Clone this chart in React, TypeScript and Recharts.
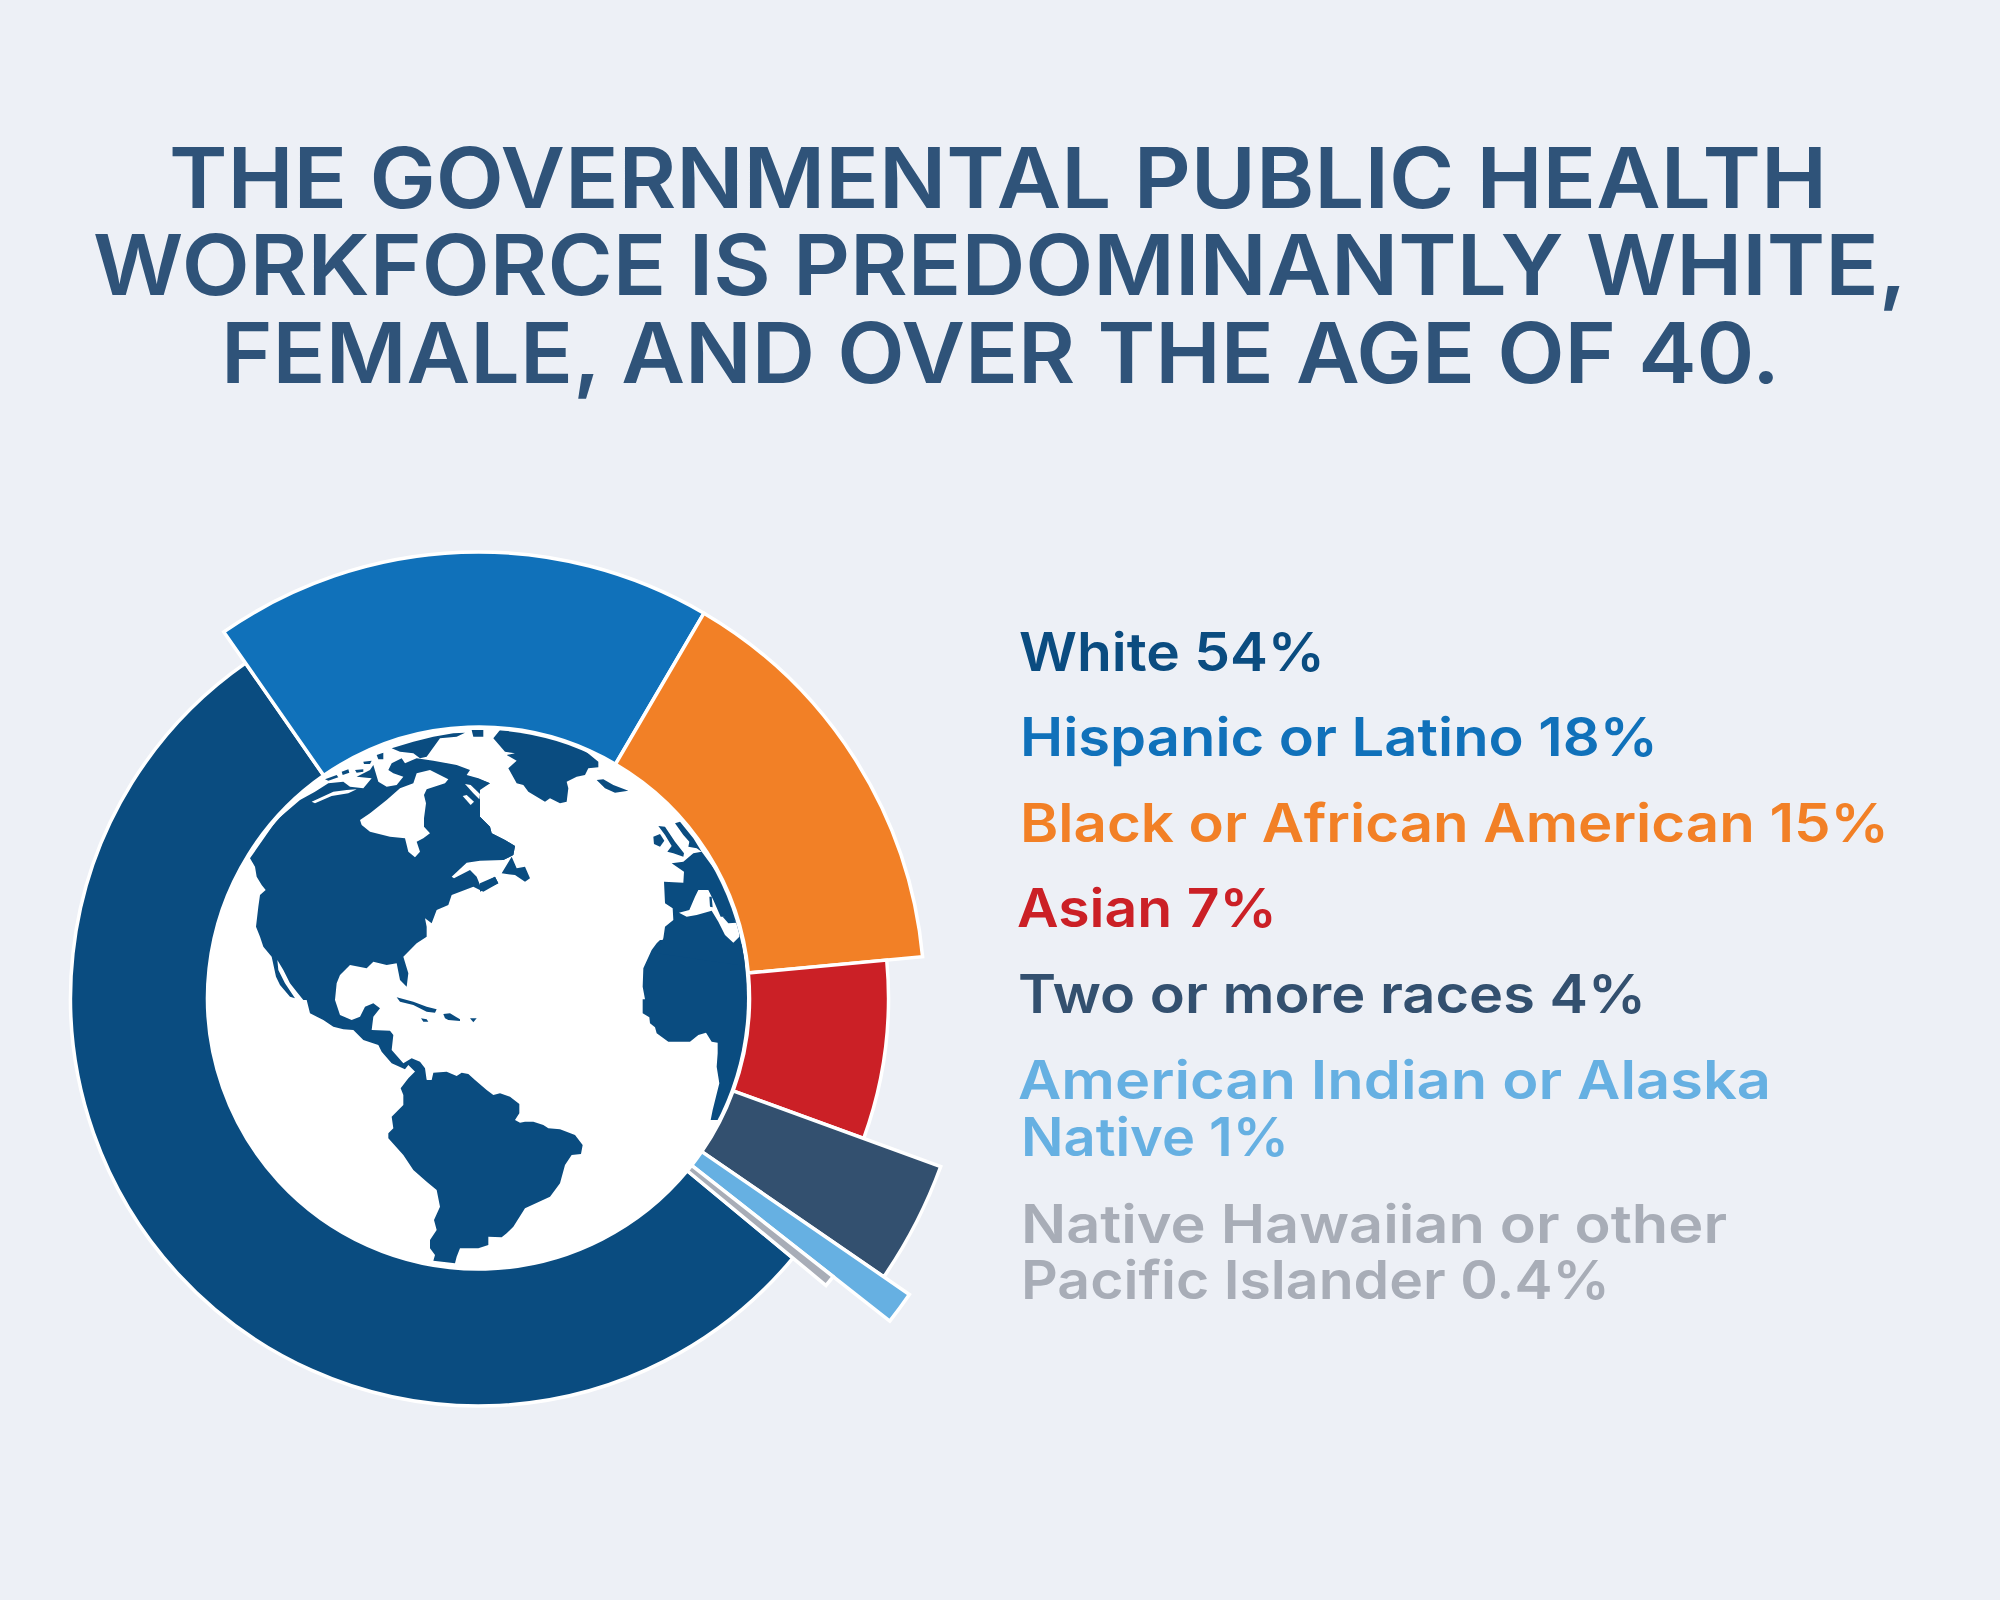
import { PieChart, Pie, Sector } from 'recharts';

// Race / ethnicity shares, in the order the legend lists them.
const CATEGORIES = [
  'White',
  'Hispanic or Latino',
  'Black or African American',
  'Asian',
  'Two or more races',
  'American Indian or Alaska Native',
  'Native Hawaiian or other Pacific Islander',
];
const SHARES = [54, 18, 15, 7, 4, 1, 0.4];
const COLORS = ['#0a4c80', '#1071ba', '#f28026', '#cb2026', '#33506f', '#66b0e2', '#a8adb7'];
const OUTER_RADII = [408, 446, 446, 410, 492, 523, 451];

const TITLE_LINES = [
  'THE GOVERNMENTAL PUBLIC HEALTH',
  'WORKFORCE IS PREDOMINANTLY WHITE,',
  'FEMALE, AND OVER THE AGE OF 40.',
];
const TITLE_BASELINES = [208, 295, 383];
const TITLE_X = [169, 93, 221];
const TITLE_WIDTHS = [1658, 1814, 1559];

const LEGEND_LINES = [
  'White 54%',
  'Hispanic or Latino 18%',
  'Black or African American 15%',
  'Asian 7%',
  'Two or more races 4%',
  'American Indian or Alaska',
  'Native 1%',
  'Native Hawaiian or other',
  'Pacific Islander 0.4%',
];
const LEGEND_COLOR_INDEX = [0, 1, 2, 3, 4, 5, 5, 6, 6];
const LEGEND_BASELINES = [671, 756, 842, 927, 1013, 1099, 1156, 1243, 1299];
const LEGEND_X = [1019, 1020, 1020, 1017, 1018, 1018, 1021, 1021, 1021];
const LEGEND_WIDTHS = [306, 638, 869, 260, 628, 753, 268, 706, 589];

const CX = 478.5;
const CY = 998;
const LAND = '#0a4c80';
const FONT = 'Inter, "Open Sans", sans-serif';

const pieData = CATEGORIES.map((name, i) => ({ name, value: SHARES[i], fill: COLORS[i] }));

// Landmass outlines for the globe, traced in three overlapping crops of the picture.
const NORTH_AMERICA =
  'M150,415 L230,300 L300,240 L345,215 L385,190 L430,185 L450,200 L490,205 L515,175 L470,170 L510,150 L520,135 L535,185 L560,200 L590,195 L610,170 L580,160 L565,150 L575,130 L605,115 L615,130 L650,115 L700,122 L770,135 L810,150 L800,165 L835,175 L870,190 L840,210 L840,290 L870,320 L875,340 L915,360 L945,378 L940,405 L910,420 L840,422 L800,428 L755,470 L762,475 L810,450 L830,470 L840,495 L885,470 L895,490 L850,515 L820,500 L755,525 L745,555 L710,570 L695,610 L675,595 L680,620 L680,650 L650,670 L610,710 L625,760 L620,800 L600,780 L590,730 L560,735 L520,725 L500,745 L450,735 L420,765 L410,790 L405,840 L420,885 L455,900 L480,890 L495,860 L520,850 L540,865 L520,890 L515,930 L570,932 L580,945 L575,990 L610,1030 L635,1015 L660,1025 L675,1045 L680,1080 L650,1060 L625,1035 L615,1048 L575,1030 L545,995 L535,975 L490,960 L460,930 L430,928 L400,920 L370,900 L330,880 L320,840 L310,840 L290,815 L270,790 L250,750 L232,720 L235,750 L255,790 L285,835 L270,830 L240,795 L228,770 L215,710 L190,680 L180,650 L168,620 L175,560 L180,525 L197,510 L185,495 L170,470 L165,440 Z';
const ARCTIC_ISLANDS = [
  'M375,178 L410,165 L415,172 L385,182 Z',
  'M425,155 L445,148 L448,158 L428,165 Z',
  'M465,150 L490,148 L490,155 L470,158 Z',
  'M490,125 L515,122 L510,132 L492,132 Z',
  'M530,105 L550,98 L550,118 L535,118 Z',
  'M575,85 L640,65 L700,50 L760,40 L795,38 L770,50 L720,55 L680,110 L660,115 L640,100 L600,95 Z',
  'M815,30 L850,30 L850,50 L820,50 Z',
];
const NA_WATER = [
  'M480,300 L510,280 L560,240 L600,205 L640,190 L650,160 L690,150 L745,178 L735,190 L680,208 L672,225 L678,250 L672,295 L672,320 L690,340 L670,355 L650,365 L660,395 L645,412 L625,395 L615,355 L570,350 L510,335 L485,315 Z',
  'M335,245 L400,215 L440,210 L470,208 L445,220 L395,228 L345,250 Z',
  'M795,192 L812,195 L840,222 L838,238 L820,220 Z',
  'M788,228 L800,225 L822,245 L812,255 Z',
];
const GREENLAND =
  'M40,55 L75,95 L105,100 L80,105 L110,122 L85,145 L110,190 L130,195 L145,215 L195,245 L210,235 L240,250 L260,245 L265,205 L260,185 L290,170 L315,165 L325,145 L355,142 L355,125 L300,80 L230,50 L150,35 L60,30 Z';
const NORTH_ATLANTIC_LAND = [
  GREENLAND,
  'M350,180 L370,178 L400,195 L445,212 L405,218 L375,205 Z',
  'M520,350 L540,342 L553,362 L540,380 L522,372 Z',
  'M535,318 L555,320 L585,365 L612,400 L610,410 L580,400 L562,395 L575,378 L555,345 Z',
  'M585,310 L600,305 L640,355 L665,395 L650,385 L625,380 L628,365 L610,345 Z',
  'M-10,175 L30,190 L-5,208 Z',
  'M0,290 L30,320 L35,340 L75,360 L105,378 L100,405 L70,420 L0,420 Z',
  'M0,490 L45,470 L55,490 L0,515 Z',
  'M65,460 L95,410 L110,445 L135,440 L150,475 L135,485 L105,465 Z',
  'M575,430 L610,425 L640,400 L665,395 L720,470 L780,600 L810,700 L810,740 L530,700 L550,655 L555,620 L580,600 L578,565 L555,550 L552,485 L610,488 L612,455 Z',
];
const MEDITERRANEAN =
  'M597,578 L628,570 L645,530 L655,510 L685,510 L700,540 L722,590 L745,590 L762,600 L775,612 L778,650 L760,668 L735,645 L715,605 L695,572 L650,585 L620,590 Z';
const MED_PENINSULAS = [
  'M688,530 L695,530 L698,562 L690,560 Z',
  'M728,590 L745,585 L762,598 L770,608 L745,610 Z',
];
const AFRICA =
  'M110,10 L95,30 L70,85 L68,140 L75,178 L68,178 L68,220 L88,232 L90,250 L105,262 L110,280 L145,305 L210,305 L235,285 L258,278 L275,305 L293,308 L293,340 L290,380 L298,430 L278,510 L272,540 L300,540 L350,450 L400,200 L380,20 L340,0 L120,0 Z';
const SOUTH_AMERICA =
  'M385,235 L415,205 L432,225 L440,240 L455,240 L460,218 L500,215 L530,228 L545,218 L565,222 L585,240 L620,270 L640,285 L660,280 L690,290 L718,312 L718,340 L705,360 L720,368 L735,365 L760,365 L790,375 L805,385 L840,388 L885,405 L908,435 L903,462 L875,465 L855,495 L840,550 L810,590 L735,625 L700,680 L680,700 L665,712 L625,710 L625,735 L595,745 L540,745 L530,770 L525,790 L460,782 L465,765 L450,745 L450,720 L470,690 L462,660 L480,620 L470,570 L440,545 L400,510 L370,465 L325,415 L325,400 L340,385 L335,350 L370,315 L370,285 L362,265 Z';
const CARIBBEAN = [
  'M350,-8 L400,5 L440,20 L470,28 L465,38 L440,35 L400,15 L360,5 Z',
  'M423,55 L440,58 L445,65 L430,65 Z',
  'M490,42 L510,40 L540,58 L540,63 L505,60 L495,55 Z',
  'M570,55 L590,55 L580,67 Z',
];

const third = (x: number, y: number) => `translate(${x},${y}) scale(${1 / 3})`;

function Globe() {
  return (
    <g>
      <defs>
        <clipPath id="limb">
          <circle cx={CX} cy={CY} r={268.5} />
        </clipPath>
      </defs>
      <circle cx={CX} cy={CY} r={271} fill="#ffffff" />
      <g clipPath="url(#limb)" fill={LAND}>
        <g transform={third(620, 940)}>
          <path d={AFRICA} />
        </g>
        <g transform={third(200, 720)}>
          <path d={NORTH_AMERICA} />
          {ARCTIC_ISLANDS.map((d) => (
            <path key={d} d={d} />
          ))}
          {NA_WATER.map((d) => (
            <path key={d} d={d} fill="#ffffff" />
          ))}
        </g>
        <g transform={third(480, 720)}>
          {NORTH_ATLANTIC_LAND.map((d) => (
            <path key={d} d={d} />
          ))}
          <path d={MEDITERRANEAN} fill="#ffffff" />
          {MED_PENINSULAS.map((d) => (
            <path key={d} d={d} />
          ))}
        </g>
        <g transform={third(280, 1000)}>
          <path d={SOUTH_AMERICA} />
          {CARIBBEAN.map((d) => (
            <path key={d} d={d} />
          ))}
        </g>
      </g>
    </g>
  );
}

function VariableSector(props: any) {
  const name = props.payload?.name ?? props.name;
  return <Sector {...props} outerRadius={OUTER_RADII[CATEGORIES.indexOf(name)]} />;
}

export default function App() {
  return (
    <div style={{ position: 'absolute', left: 0, top: 0, width: 2000, height: 1600, background: '#edf0f6' }}>
      <PieChart width={2000} height={1600} margin={{ top: 0, right: 0, bottom: 0, left: 0 }}>
        <Pie
          data={pieData}
          dataKey="value"
          nameKey="name"
          cx={CX}
          cy={CY}
          innerRadius={271}
          outerRadius={523}
          startAngle={-39.6}
          endAngle={-399.6}
          stroke="#ffffff"
          strokeWidth={3.5}
          shape={VariableSector}
          isAnimationActive={false}
          label={false}
          labelLine={false}
        />
        <Globe />
        {TITLE_LINES.map((line, i) => (
          <text
            key={line}
            x={TITLE_X[i]}
            y={TITLE_BASELINES[i]}
            fill="#2f5379"
            fontFamily={FONT}
            fontWeight={600}
            fontSize={84}
            textLength={TITLE_WIDTHS[i]}
            lengthAdjust="spacingAndGlyphs"
          >
            {line}
          </text>
        ))}
        {LEGEND_LINES.map((line, i) => (
          <text
            key={line}
            x={LEGEND_X[i]}
            y={LEGEND_BASELINES[i]}
            fill={COLORS[LEGEND_COLOR_INDEX[i]]}
            fontFamily={FONT}
            fontWeight={600}
            fontSize={53}
            textLength={LEGEND_WIDTHS[i]}
            lengthAdjust="spacingAndGlyphs"
          >
            {line}
          </text>
        ))}
      </PieChart>
    </div>
  );
}
